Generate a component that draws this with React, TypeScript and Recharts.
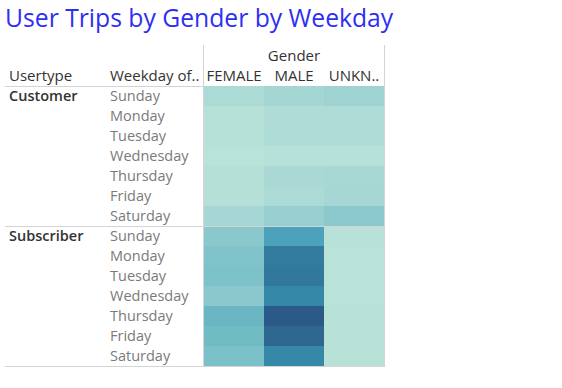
import { Bar, BarChart, XAxis, YAxis, Cell } from 'recharts';

// Heatmap of trip counts, rows = usertype x weekday, columns = gender
const usertypes = ['Customer', 'Subscriber'];
const weekdays = ['Sunday', 'Monday', 'Tuesday', 'Wednesday', 'Thursday', 'Friday', 'Saturday'];
const genders = ['FEMALE', 'MALE', 'UNKN..'];

const customerFemale = [29000, 9000, 9500, 3500, 11500, 11000, 37000];
const customerMale = [40000, 23000, 23500, 9000, 31000, 29000, 57000];
const customerUnknown = [48000, 23000, 23000, 9000, 33000, 37000, 73000];
const subscriberFemale = [74000, 86000, 89000, 74000, 114000, 105000, 91000];
const subscriberMale = [148000, 229000, 234000, 200000, 285000, 256000, 200000];
const subscriberUnknown = [5000, 1500, 1500, 2500, 5000, 5000, 5000];

// Tableau-like blue-teal ramp
const ramp = ['#bae4d9', '#acdad5', '#98d0d1', '#80c3ca', '#6ab7c3', '#4fa6bd', '#3b92b0', '#3688a9', '#327c9f', '#2e6890', '#2c5a88'];

const hexToRgb = (h: string) => [1, 3, 5].map((i) => parseInt(h.slice(i, i + 2), 16));

const colorFor = (v: number, max: number) => {
  const t = Math.max(0, Math.min(1, v / max)) * (ramp.length - 1);
  const i = Math.min(Math.floor(t), ramp.length - 2);
  const f = t - i;
  const a = hexToRgb(ramp[i]);
  const b = hexToRgb(ramp[i + 1]);
  const c = a.map((x, k) => Math.round(x + (b[k] - x) * f));
  return `rgb(${c[0]},${c[1]},${c[2]})`;
};

const rows = usertypes.flatMap((u) => {
  const fem = u === 'Customer' ? customerFemale : subscriberFemale;
  const mal = u === 'Customer' ? customerMale : subscriberMale;
  const unk = u === 'Customer' ? customerUnknown : subscriberUnknown;
  return weekdays.map((d, i) => ({
    row: `${u}-${d}`, usertype: u, weekday: d, first: i === 0,
    female: fem[i], male: mal[i], unknown: unk[i],
    w1: 1, w2: 1, w3: 1,
  }));
});

const maxVal = Math.max(...rows.map((r) => Math.max(r.female, r.male, r.unknown)));

const font = '"Open Sans", "Noto Sans", sans-serif';
const lineColor = '#d4d4d4';

const RowTick = ({ y, payload }: any) => {
  const r = rows.find((d) => d.row === payload.value);
  if (!r) return null;
  return (
    <g>
      {r.first && (
        <text x={9} y={y} dy={5} fontSize={14.5} fontWeight={600} fill="#333" fontFamily={font}>
          {r.usertype}
        </text>
      )}
      <text x={110} y={y} dy={5} fontSize={14.5} fill="#7a7a7a" fontFamily={font}>
        {r.weekday}
      </text>
    </g>
  );
};

export default function App() {
  const headerStyle = { position: 'absolute' as const, fontFamily: font, fontSize: 15, color: '#333', lineHeight: '20px', whiteSpace: 'nowrap' as const };
  return (
    <div style={{ position: 'absolute', left: 0, top: 0, width: 562, height: 388, background: '#fff' }}>
      <div style={{ position: 'absolute', left: 5, top: 1, fontFamily: font, fontSize: 24.7, color: '#2f2ff2', whiteSpace: 'nowrap' }}>
        User Trips by Gender by Weekday
      </div>
      <div style={{ ...headerStyle, left: 204, width: 180, top: 45, textAlign: 'center' }}>Gender</div>
      <div style={{ ...headerStyle, left: 9, top: 65 }}>Usertype</div>
      <div style={{ ...headerStyle, left: 110, top: 65 }}>Weekday of..</div>
      {genders.map((g, i) => (
        <div key={g} style={{ ...headerStyle, left: 204 + i * 60, width: 60, top: 65, textAlign: 'center' }}>{g}</div>
      ))}
      <BarChart
        width={562}
        height={388}
        data={rows}
        layout="vertical"
        barCategoryGap={0}
        margin={{ top: 86, right: 178, bottom: 22, left: 0 }}
      >
        <XAxis type="number" domain={[0, 3]} hide />
        <YAxis type="category" dataKey="row" width={204} axisLine={false} tickLine={false} tick={<RowTick />} interval={0} />
        <Bar dataKey="w1" stackId="g" isAnimationActive={false}>
          {rows.map((r, i) => <Cell key={`f-${i}`} fill={colorFor(r.female, maxVal)} />)}
        </Bar>
        <Bar dataKey="w2" stackId="g" isAnimationActive={false}>
          {rows.map((r, i) => <Cell key={`m-${i}`} fill={colorFor(r.male, maxVal)} />)}
        </Bar>
        <Bar dataKey="w3" stackId="g" isAnimationActive={false}>
          {rows.map((r, i) => <Cell key={`u-${i}`} fill={colorFor(r.unknown, maxVal)} />)}
        </Bar>
      </BarChart>
      {/* grid separators */}
      <div style={{ position: 'absolute', left: 203, top: 45, width: 1, height: 321, background: lineColor }} />
      <div style={{ position: 'absolute', left: 384, top: 45, width: 1, height: 321, background: lineColor }} />
      <div style={{ position: 'absolute', left: 5, top: 86, width: 199, height: 1, background: lineColor }} />
      <div style={{ position: 'absolute', left: 5, top: 226, width: 380, height: 1, background: lineColor }} />
      <div style={{ position: 'absolute', left: 5, top: 366, width: 380, height: 1, background: lineColor }} />
    </div>
  );
}
